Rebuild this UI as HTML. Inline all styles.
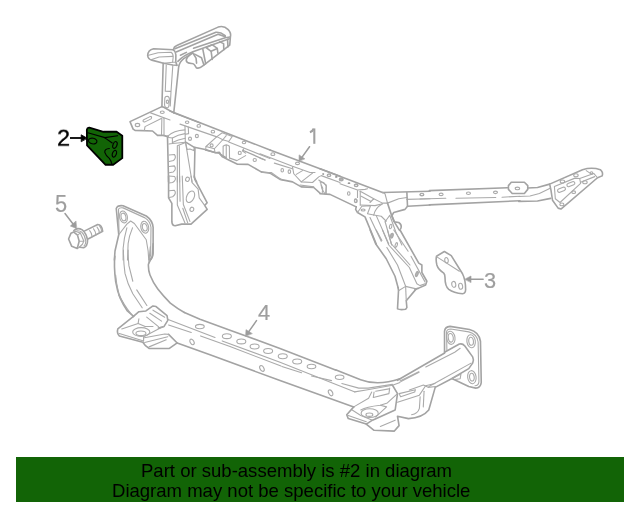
<!DOCTYPE html>
<html><head><meta charset="utf-8">
<style>
html,body{margin:0;padding:0;background:#fff;}
body{width:640px;height:512px;position:relative;overflow:hidden;font-family:"Liberation Sans",sans-serif;}
#banner{position:absolute;left:16px;top:457px;width:608px;height:45px;background:#126406;}
.t{position:absolute;white-space:nowrap;font-size:18.55px;line-height:20px;color:#000;}
#t1{left:140.5px;top:461px;}
#t2{left:111.5px;top:481px;}
.n{position:absolute;font-size:21.8px;line-height:24px;color:#9e9e9e;-webkit-text-stroke:0.2px #9e9e9e;transform:scaleY(1.06);transform-origin:0 0;will-change:transform;}
.t{will-change:transform;}
svg{position:absolute;left:0;top:0;}
svg .i{stroke-width:1.1;stroke:#aaa;}
svg .lb{stroke:#9c9c9c;stroke-width:1.5;}
svg .ah{fill:#9c9c9c;stroke:#9c9c9c;stroke-width:0.6;}
svg rect,svg path,svg ellipse,svg circle,svg line,svg polyline{vector-effect:non-scaling-stroke;}
</style></head><body>
<div id="banner"></div>
<div class="t" id="t1">Part or sub-assembly is #2 in diagram</div>
<div class="t" id="t2">Diagram may not be specific to your vehicle</div>
<div class="n" style="left:57.1px;top:127.25px;color:#000;font-size:23.5px;transform:scaleY(0.93);-webkit-text-stroke:0.4px #000;">2</div>
<div class="n" style="left:483.7px;top:268.8px;transform:scaleY(1.02);">3</div>
<div class="n" style="left:257.5px;top:299.57px;transform:scaleY(1.03);">4</div>
<div class="n" style="left:55.4px;top:191.8px;">5</div>
<svg width="640" height="512" viewBox="0 0 640 512" fill="none" stroke="#a3a3a3" stroke-width="1.6" stroke-linejoin="round" stroke-linecap="round">

<!-- Z1: top arm, region [170,20,240,76] scale 9.143 -->
<g transform="translate(170,20) scale(0.109375)">
<path d="M30,272 Q35,245 62,234 L440,65 Q492,48 532,88 Q562,118 552,158 L546,230 L300,420 Q265,450 240,436 L224,410 Q214,395 195,398 L166,392 Q144,380 150,360 L160,340 L203,298"/>
<path d="M45,262 L420,112 Q460,108 505,142"/>
<path d="M56,292 L440,130 L505,152"/>
<path d="M215,258 L505,162 L548,156"/>
<path d="M95,322 L150,296"/>
<path d="M72,378 Q125,322 210,290 L542,172"/>
<path d="M205,296 L238,348 L243,395"/>
<path d="M225,312 L288,345 L310,412"/>
<path d="M300,266 L326,400"/>
<path d="M330,252 L385,226 L432,260 L376,286 Z"/>
<path d="M376,286 L386,360"/>
<path d="M432,260 L438,302"/>
<path d="M455,200 L490,216 L492,272"/>
<path d="M526,176 L530,246"/>
</g>

<!-- Z2: left tab + post upper, region [140,40,210,96] scale 9.143 -->
<g transform="translate(140,40) scale(0.109375)">
<path d="M305,89 L125,80 Q72,92 70,142 Q74,176 108,184 L215,213 L300,228 L336,231"/>
<path d="M305,89 Q326,105 328,135 L327,200 L338,232"/>
<path class="i" d="M78,140 L165,116 L285,112 Q305,125 303,160 L298,202"/>
<path class="i" d="M100,180 L175,156 L300,150"/>
<path class="i" d="M215,213 L300,204 L327,204"/>
<path d="M212,213 L200.5,604"/>
<path class="i" d="M240,228 L231,468 L279,470"/>
<path class="i" d="M300,232 L283.6,469 L276.6,604"/>
<path d="M308.6,666 L353,250 Q360,200 400,170 L478,122"/>
</g>
<!-- Z3: post bottom slot, region [130,70,200,126] -->
<g transform="translate(130,70) scale(0.109375)">
<path class="i" d="M318,262 Q318,240 340,240 Q360,242 360,265 L356,325 Q352,348 335,345 Q316,340 316,320 Z"/>
<ellipse class="i" cx="342" cy="290" rx="10" ry="15"/>
</g>
<!-- Z4: crossbar left end, region [120,96,200,160] scale 8 -->
<g transform="translate(120,96) scale(0.125)">
<path d="M335,85 L80,205 L105,265 L120,275 L260,280 L300,315 L345,315 L385,325"/>
<path d="M335,85 L350,90 L430,135 L640,215"/>
<path class="i" d="M195,275 L200,245 L330,180"/>
<path class="i" d="M245,135 L400,192"/>
<path class="i" d="M335,178 L332,308"/>
<path class="i" d="M352,178 L352,316"/>
<ellipse class="i" cx="140" cy="232" rx="18" ry="13"/>
<ellipse class="i" cx="338" cy="130" rx="16" ry="10"/>
<path class="i" d="M190,190 L240,165 Q256,160 252,175 Q250,182 245,185 L200,207 Q185,210 184,200 Q184,194 190,190 Z"/>
</g>
<!-- Z7: left strut top, region [156,126,226,182] scale 9.143 -->
<g transform="translate(156,126) scale(0.109375)">
<path d="M105,95 L115,512"/>
<path class="i" d="M105,95 Q160,40 265,35"/>
<path class="i" d="M150,110 Q200,80 265,70"/>
<path class="i" d="M150,150 Q200,125 268,112"/>
<path class="i" d="M115,105 L150,110 L150,160 L118,165"/>
<path class="i" d="M150,160 L270,148"/>
<path class="i" d="M265,0 L268,150"/>
<path class="i" d="M295,10 L298,70 L270,76"/>
<path class="i" d="M195,512 L195,180 L270,150"/>
<path class="i" d="M213,180 L216,512"/>
<path class="i" d="M270,150 L330,512"/>
<path class="i" d="M270,150 L285,215 L310,210 L345,225 L350,195"/>
<path d="M356,198 L350,470 L372,512"/>
<path d="M272,148 L350,195 L450,215 L545,245 L580,240 L590,260 L640,290"/>
<path class="i" d="M120,265 L168,260 Q190,290 160,315 L120,325"/>
<path class="i" d="M120,370 L168,365 Q190,395 158,420 L120,428"/>
</g>
<!-- Z6: left strut bottom, region [156,176,226,232] scale 9.143 -->
<g transform="translate(156,176) scale(0.109375)">
<path d="M115,0 L115,200 L145,250 L145,420 Q148,455 175,455 L235,440 L320,440 L468,305 L445,268 L468,245 L355,30 L350,0"/>
<path class="i" d="M320,0 L330,60 L385,120 L395,200 L445,268"/>
<path class="i" d="M118,0 L170,5 Q192,35 152,60 L118,64"/>
<path class="i" d="M120,135 L168,130 Q192,160 152,190 L120,196"/>
<path class="i" d="M195,0 L195,265 L265,430"/>
<path class="i" d="M216,0 L220,230"/>
<path class="i" d="M240,0 L250,260 L310,415"/>
<path class="i" d="M245,295 L290,428"/>
<ellipse class="i" cx="288" cy="30" rx="17" ry="20" transform="rotate(20 288 30)"/>
<ellipse class="i" cx="315" cy="190" rx="34" ry="56" transform="rotate(25 315 190)"/>
<ellipse class="i" cx="328" cy="305" rx="17" ry="20" transform="rotate(25 328 305)"/>
</g>

<!-- Z8: crossbar section 1, region [190,110,270,174] scale 8 -->
<g transform="translate(190,110) scale(0.125)">
<path d="M-160,8 L640,320"/>
<path class="i" d="M-80,113 L215,215"/>
<ellipse class="i" cx="-23" cy="98" rx="14" ry="10"/>
<path class="i" d="M310,256 L640,388"/>
<path d="M422,322 L600,400" stroke-width="1.3"/>
<path d="M125,320 L200,340 L235,345 L260,375 L310,400 L380,434 L465,435 L570,495 L640,505"/>
<path class="i" d="M125,320 L128,292 L215,213 L258,182 L338,212 L310,252 L262,238 L195,310 L200,340"/>
<path class="i" d="M128,292 L195,310"/>
<path class="i" d="M215,213 L262,238"/>
<path class="i" d="M262,238 L290,205"/>
<path class="i" d="M265,375 L265,290 Q290,268 315,290 L316,385"/>
<path class="i" d="M290,282 L290,388"/>
<path class="i" d="M318,385 L375,405 L445,365"/>
<path class="i" d="M430,310 L420,328 L445,345"/>
<ellipse class="i" cx="70" cy="127" rx="14" ry="11"/>
<ellipse class="i" cx="183" cy="173" rx="14" ry="11"/>
<ellipse class="i" cx="55" cy="208" rx="12" ry="13"/>
<ellipse class="i" cx="0" cy="230" rx="12" ry="13"/>
<ellipse class="i" cx="173" cy="283" rx="12" ry="12"/>
<ellipse class="i" cx="432" cy="260" rx="14" ry="10"/>
<ellipse class="i" cx="398" cy="343" rx="12" ry="13"/>
<ellipse class="i" cx="518" cy="400" rx="13" ry="12"/>
</g>
<!-- Z9: crossbar section 2, region [260,130,340,194] scale 8 -->
<g transform="translate(260,130) scale(0.125)">
<path d="M80,160 L640,370"/>
<path class="i" d="M0,190 L260,290 L400,340 L440,340"/>
<path class="i" d="M0,225 L40,240"/>
<path class="i" d="M115,265 L260,310"/>
<path d="M80,345 L160,395 L260,415 L330,455 L430,460 L480,505"/>
<path class="i" d="M10,340 L90,340 L140,375 L180,402"/>
<path class="i" d="M320,440 L430,455"/>
<path class="i" d="M260,295 L270,350 L330,415 L420,420 L470,375 L490,365 L640,420"/>
<path class="i" d="M290,355 L340,325"/>
<path class="i" d="M330,415 L420,345"/>
<path class="i" d="M470,400 L530,440 L530,512"/>
<path class="i" d="M485,420 L495,470 L520,512"/>
<ellipse class="i" cx="103" cy="193" rx="16" ry="11"/>
<ellipse class="i" cx="300" cy="267" rx="16" ry="10"/>
<ellipse class="i" cx="178" cy="322" rx="10" ry="14"/>
<ellipse class="i" cx="235" cy="333" rx="10" ry="14"/>
<ellipse cx="507" cy="352" rx="6" ry="5" fill="#999" stroke="none"/>
<ellipse class="i" cx="552" cy="362" rx="14" ry="10"/>
<ellipse cx="612" cy="372" rx="7" ry="5" fill="#999" stroke="none"/>
</g>
<!-- Z10: crossbar section 3, region [320,160,400,224] scale 8 -->
<g transform="translate(320,160) scale(0.125)">
<path d="M0,70 L500,260"/>
<path class="i" d="M160,190 L300,240 L360,235 L380,230"/>
<path d="M0,270 L80,275 L290,375"/>
<path class="i" d="M0,175 L30,180 L50,210 L45,265"/>
<path class="i" d="M10,200 L22,225 L18,262"/>
<path class="i" d="M300,245 L300,300"/>
<ellipse cx="25" cy="112" rx="9" ry="6" fill="#999" stroke="none"/>
<ellipse class="i" cx="72" cy="122" rx="14" ry="10"/>
<ellipse cx="130" cy="135" rx="10" ry="7" fill="#999" stroke="none"/>
<ellipse cx="170" cy="155" rx="14" ry="10" fill="#bbb" stroke="#aaa"/>
<ellipse cx="232" cy="185" rx="11" ry="7" fill="#999" stroke="none"/>
<ellipse class="i" cx="290" cy="203" rx="14" ry="10"/>
<ellipse class="i" cx="230" cy="268" rx="10" ry="14"/>
<ellipse class="i" cx="287" cy="328" rx="10" ry="14"/>
</g>
<!-- Z11: joint, region [350,180,430,244] scale 8 -->
<g transform="translate(350,180) scale(0.125)">
<path d="M260,100 L640,90"/>
<path d="M50,215 L45,235 L60,260 L120,295 L210,512"/>
<path class="i" d="M82,90 L82,200"/>
<path class="i" d="M82,90 L190,150 L260,185 L300,185 L280,110 L260,100"/>
<path class="i" d="M90,130 L165,170"/>
<path class="i" d="M190,150 L160,180"/>
<path class="i" d="M82,200 L200,205 L260,190"/>
<path class="i" d="M60,260 L95,210 L165,205 L140,270 L190,280"/>
<path class="i" d="M300,185 L390,150 L455,140"/>
<path class="i" d="M260,190 Q200,225 190,280"/>
<path class="i" d="M190,280 L250,290 L290,330"/>
<path class="i" d="M455,155 L640,150"/>
<path d="M455,100 L460,210 L440,235 L350,260 L335,285 L355,335 L390,340 Q420,360 405,392"/>
<path d="M460,210 L640,200"/>
<path d="M300,185 L334,287 L352,331 L396,403"/>
<path class="i" d="M281,334 L334,520"/>
<path class="i" d="M160,300 L250,490"/>
<path class="i" d="M210,285 L310,512"/>
<path class="i" d="M281,334 L318,282 L365,412 L415,520"/>
<ellipse class="i" cx="48" cy="42" rx="14" ry="9"/>
<ellipse class="i" cx="45" cy="165" rx="10" ry="14"/>
<ellipse class="i" cx="105" cy="240" rx="16" ry="8"/>
<ellipse class="i" cx="575" cy="115" rx="14" ry="9"/>
<ellipse class="i" cx="325" cy="372" rx="9" ry="18" transform="rotate(15 325 372)"/>
</g>
<!-- Z12: right strut, region [360,230,440,294] scale 8 -->
<g transform="translate(360,230) scale(0.125)">
<path d="M81,0 L125,110 L210,230 L280,370 L305,462"/>
<path d="M320,0 L470,265 L495,280 L495,340 L535,410 L525,440 L470,465 L440,475"/>
<path class="i" d="M130,0 L175,85"/>
<path class="i" d="M180,0 L230,120 L395,300 L455,430 L480,445 L520,430"/>
<path class="i" d="M220,0 L250,110 L400,280"/>
<path class="i" d="M215,140 L300,280 L365,450"/>
<path class="i" d="M270,0 L385,170"/>
<path class="i" d="M408,210 L520,415"/>
<ellipse cx="255" cy="45" rx="9" ry="18" transform="rotate(15 255 45)" fill="#bbb" stroke="#aaa"/>
<ellipse class="i" cx="290" cy="120" rx="8" ry="20" transform="rotate(20 290 120)"/>
<ellipse cx="455" cy="352" rx="8" ry="20" transform="rotate(20 455 352)" fill="#ccc" stroke="#aaa"/>
</g>
<!-- Z13: right strut bottom, region [380,262,460,326] scale 8 -->
<g transform="translate(380,262) scale(0.125)">
<path d="M145,205 L148,230 L140,375 Q160,385 205,378 L215,365 L210,310 L290,215"/>
<path class="i" d="M205,195 L210,310"/>
<path class="i" d="M148,230 L205,195 L290,215"/>
</g>

<!-- Z14: right arm, region [420,160,520,240] scale 6.4 -->
<g transform="translate(420,160) scale(0.15625)">
<path d="M60,196 L560,178"/>
<path class="i" d="M0,250 L165,245"/>
<path class="i" d="M230,245 L485,240"/>
<path class="i" d="M525,238 L640,232"/>
<path d="M60,287 L640,261"/>
<ellipse class="i" cx="12" cy="222" rx="13" ry="8"/>
<ellipse class="i" cx="135" cy="220" rx="13" ry="8"/>
<ellipse class="i" cx="310" cy="213" rx="13" ry="8"/>
<ellipse class="i" cx="483" cy="207" rx="13" ry="8"/>
</g>
<!-- Z15: right arm end, region [500,150,620,246] scale 5.333 -->
<g transform="translate(500,150) scale(0.1875)">
<path d="M45,190 L60,172 L130,172 L148,190 L148,210 L130,232 L65,232 L45,210 Z" stroke-linejoin="round"/>
<ellipse class="i" cx="93" cy="205" rx="12" ry="7"/>
<path d="M148,203 L200,200 L265,182 L440,105 Q490,90 535,105 Q552,120 545,138 L520,148 L325,315 L310,310 L280,268 L272,215 L265,182"/>
<path d="M100,274 L200,272 L270,258"/>
<path class="i" d="M100,248 L160,245 L210,232 L265,205"/>
<path class="i" d="M290,195 L400,150 L425,152 L430,178 L320,280 L295,260 Z"/>
<path class="i" d="M425,152 L500,125 L520,148"/>
<path class="i" d="M430,172 L505,142"/>
<path class="i" d="M460,110 L490,130"/>
<ellipse class="i" cx="333" cy="168" rx="12" ry="8"/>
<ellipse class="i" cx="405" cy="135" rx="12" ry="8"/>
<ellipse class="i" cx="453" cy="172" rx="12" ry="8"/>
<ellipse class="i" cx="393" cy="225" rx="10" ry="7"/>
<ellipse class="i" cx="330" cy="290" rx="11" ry="7"/>
<ellipse class="i" cx="488" cy="122" rx="7" ry="6"/>
<rect class="i" x="306" y="203" width="44" height="18" rx="9" transform="rotate(-22 328 212)"/>
<rect class="i" x="356" y="173" width="44" height="18" rx="9" transform="rotate(-22 378 182)"/>
</g>
<!-- Z16: part 3 + label, region [425,240,505,304] scale 8 -->
<g transform="translate(425,240) scale(0.125)">
<path d="M155,92 L92,130 Q85,160 95,200 Q105,235 150,265 Q160,275 160,300 Q160,370 190,395 Q230,425 300,430 Q325,425 325,395 Q325,320 300,270 L210,125 Z"/>
<path class="i" d="M95,135 L275,250"/>
<ellipse class="i" cx="172" cy="162" rx="14" ry="22" transform="rotate(-10 172 162)"/>
<ellipse class="i" cx="230" cy="355" rx="16" ry="24" transform="rotate(-10 230 355)"/>
<ellipse class="i" cx="285" cy="370" rx="16" ry="24" transform="rotate(-10 285 370)"/>
<path class="lb" d="M465,313 L350,313"/>
<path class="ah" d="M320,313 L368,288 L368,338 Z"/>
</g>
<!-- Z17: bolt + label 5, region [40,190,120,254] scale 8 -->
<g transform="translate(40,190) scale(0.125)">
<path class="lb" d="M200,188 L272,282"/>
<path class="ah" d="M292,308 L243,288 L286,250 Z"/>
</g>
<!-- Z25: bolt, region [64,220,109,256] scale 14.22 -->
<g transform="translate(64,220) scale(0.0703125)">
<path d="M65,270 L98,190 L140,172 L192,215 L216,302 L188,405 L110,375 Z"/>
<path class="i" d="M140,172 L160,160 L232,186 L192,215"/>
<path class="i" d="M232,186 L282,300 L216,302"/>
<path class="i" d="M282,300 L262,345 L205,398"/>
<path d="M140,150 Q190,100 260,140 Q320,190 335,290 Q335,370 280,395 L225,388"/>
<path class="i" d="M165,160 Q210,140 255,175 Q300,220 310,300 Q310,350 285,370"/>
<path d="M295,155 L480,65 Q540,70 550,160 L342,270"/>
<path class="i" d="M365,150 Q395,180 400,238"/>
<path class="i" d="M420,125 Q450,160 455,212"/>
<path class="i" d="M470,100 Q500,135 505,187"/>
<path class="i" d="M505,82 Q530,110 535,165"/>
</g>
<!-- label 1 + arrow, region [280,120,340,168] scale 10.667 -->
<g transform="translate(280,120) scale(0.09375)">
<path class="lb" d="M315,285 L222,415"/>
<path class="ah" d="M203,438 L204,372 L262,412 Z"/>
<path d="M366,90 L366,254" stroke="#a0a0a0" stroke-width="2.1" stroke-linecap="butt"/>
<path d="M319,130 Q350,120 358,92" stroke="#a0a0a0" stroke-width="2.0" stroke-linecap="butt" fill="none"/>
</g>
<!-- label 4 arrow, region [180,300,300,396] scale 5.333 -->
<g transform="translate(180,300) scale(0.1875)">
<path class="lb" d="M408,110 L362,175"/>
<path class="ah" d="M350,192 L352,158 L384,178 Z"/>
</g>
<!-- label 2 arrow (black) -->
<path d="M70,138 L83,138" stroke="#000" stroke-width="1.8" stroke-linecap="butt"/>
<path d="M87,138.1 L81.2,134.8 L81.2,141.4 Z" fill="#000" stroke="#000" stroke-width="0.8"/>

<!-- part 2 green, region [80,122,130,172] scale 10.24 -->
<g transform="translate(80,122) scale(0.09765625)" stroke="#000">
<path d="M70,78 Q74,56 96,58 L240,100 L375,100 L433,140 L433,370 L340,438 L262,438 L72,240 Z" fill="#126406" stroke-width="1.8"/>
<path d="M80,110 L255,160 L385,140" stroke-width="1.1"/>
<path d="M255,163 L330,215" stroke-width="1.1"/>
<ellipse cx="130" cy="195" rx="44" ry="29" transform="rotate(12 130 195)" stroke-width="1.1"/>
<ellipse cx="358" cy="235" rx="20" ry="36" transform="rotate(22 358 235)" stroke-width="1.1"/>
<ellipse cx="352" cy="325" rx="20" ry="36" transform="rotate(22 352 325)" stroke-width="1.1"/>
<path d="M300,272 Q250,275 254,310 Q262,340 300,372 Q318,395 326,428" stroke-width="1.1"/>
</g>
<!-- Z18: lower crossmember left flange, region [100,196,180,260] scale 8 -->
<g transform="translate(100,196) scale(0.125)">
<path d="M115,512 L120,440 L150,310 L130,100 Q140,72 185,78 L370,160 Q420,195 425,250 L425,460 Q420,500 400,512"/>
<path class="i" d="M152,290 L148,105 Q155,90 185,95 L360,175 Q400,200 408,250 L405,470 L395,512"/>
<path class="i" d="M150,310 L215,225 L245,200 L275,220 L370,350 L385,440 L390,512"/>
<path class="i" d="M215,255 Q190,340 185,420 L185,512"/>
<path class="i" d="M260,255 Q232,320 225,380 L220,512"/>
<ellipse class="i" cx="188" cy="168" rx="31" ry="48" transform="rotate(-12 188 168)"/>
<ellipse class="i" cx="188" cy="168" rx="19" ry="31" transform="rotate(-12 188 168)"/>
<ellipse class="i" cx="358" cy="250" rx="31" ry="48" transform="rotate(-12 358 250)"/>
<ellipse class="i" cx="358" cy="250" rx="19" ry="30" transform="rotate(-12 358 250)"/>
</g>
<!-- Z19: curved arm, region [100,250,200,330] scale 6.4 -->
<g transform="translate(100,250) scale(0.15625)">
<path d="M95,40 Q88,100 100,200 Q110,260 130,310 Q150,355 175,390 L215,425"/>
<path d="M340,-40 L335,40 L310,90 Q308,130 320,160 Q340,210 370,250 Q405,295 450,340 Q495,375 540,400"/>
<path class="i" d="M322,-20 L312,85"/>
<path class="i" d="M150,0 Q150,80 160,150 Q175,215 210,280 L270,370"/>
<path class="i" d="M180,0 Q180,50 185,100 L210,200"/>
<path class="i" d="M235,255 L300,355"/>
<path class="i" d="M100,160 Q105,220 120,280 Q150,350 200,410"/>
<path class="i" d="M120,290 L150,345"/>
</g>
<!-- Z20: left mount, region [110,300,210,380] scale 6.4 -->
<g transform="translate(110,300) scale(0.15625)">
<path d="M150,105 L50,185 Q42,210 60,230 L210,270 L225,290 L250,310 L380,310 L430,275 L375,220"/>
<path d="M150,105 L185,75 L230,70 L275,38 L295,42 L365,100 L370,130 L345,170 L310,180"/>
<path class="i" d="M275,65 L350,110"/>
<path class="i" d="M255,85 L330,135"/>
<path class="i" d="M235,110 L310,170"/>
<path class="i" d="M185,120 L180,150 L75,185"/>
<path class="i" d="M180,150 L225,170 L275,170"/>
<ellipse class="i" cx="200" cy="205" rx="55" ry="28"/>
<ellipse class="i" cx="198" cy="213" rx="32" ry="15"/>
<path class="i" d="M60,215 L215,262"/>
<path class="i" d="M215,262 L215,235 L310,185 L345,170"/>
<path class="i" d="M220,242 L350,218 L375,220"/>
<path class="i" d="M222,272 L370,235"/>
<path class="i" d="M250,300 L360,255"/>
<path class="i" d="M375,160 L520,208"/>
<ellipse class="i" cx="575" cy="170" rx="28" ry="14"/>
<ellipse class="i" cx="525" cy="268" rx="12" ry="19" transform="rotate(-30 525 268)"/>
</g>
<!-- Z21: beam, region [180,300,300,396] scale 5.333 -->
<g transform="translate(180,300) scale(0.1875)">
<ellipse class="i" cx="250" cy="193" rx="24" ry="13"/>
<ellipse class="i" cx="327" cy="221" rx="24" ry="13"/>
<ellipse class="i" cx="398" cy="248" rx="24" ry="13"/>
<ellipse class="i" cx="470" cy="272" rx="24" ry="13"/>
<ellipse class="i" cx="548" cy="300" rx="24" ry="13"/>
<ellipse class="i" cx="625" cy="328" rx="24" ry="13"/>
<ellipse class="i" cx="437" cy="365" rx="10" ry="17" transform="rotate(-30 437 365)"/>
</g>
<!-- Z22: beam right, region [280,330,400,426] scale 5.333 -->
<g transform="translate(280,330) scale(0.1875)">
<path d="M296,212 L430,265 Q520,300 640,260"/>
<path class="i" d="M398,330 L460,320 L600,295 L640,280"/>
<path class="i" d="M10,195 L115,228"/>
<path class="i" d="M168,245 L275,270"/>
<path class="i" d="M330,285 L420,310 L470,310 L600,290"/>
<ellipse class="i" cx="168" cy="195" rx="23" ry="12"/>
<ellipse class="i" cx="318" cy="252" rx="23" ry="12"/>
<ellipse class="i" cx="270" cy="335" rx="10" ry="17" transform="rotate(-30 270 335)"/>
</g>
<!-- Z23: right mount, region [335,360,435,440] scale 6.4 -->
<g transform="translate(335,360) scale(0.15625)">
<path d="M400,130 L702,-45"/>
<path class="i" d="M422,138 L538,78"/>
<path d="M120,300 L75,350 L85,375 L200,410 L250,450 L380,455 L410,420 L400,360 L470,375 Q560,370 600,320 L640,180"/>
<path class="i" d="M120,300 L215,245 L235,205"/>
<path class="i" d="M250,205 L245,240 L345,215 L350,180"/>
<path class="i" d="M260,200 L345,185"/>
<path d="M370,165 L400,215 L385,320 L240,385 L200,410"/>
<path class="i" d="M165,320 Q200,300 290,290 L335,275 L400,215"/>
<path class="i" d="M290,290 L330,300 L260,365"/>
<ellipse class="i" cx="222" cy="340" rx="55" ry="28"/>
<ellipse class="i" cx="220" cy="350" rx="22" ry="11"/>
<path class="i" d="M110,320 L165,355 L240,385"/>
<path class="i" d="M85,355 L200,395"/>
<path class="i" d="M290,425 L385,385"/>
<path class="i" d="M410,215 L420,235 L510,205 L515,190 Z"/>
<path class="i" d="M400,270 L540,225 L580,165 L640,150"/>
<path class="i" d="M545,235 L540,310 Q530,345 490,350"/>
<path class="i" d="M570,200 L565,300"/>
</g>
<!-- Z24: right flange, region [400,310,500,390] scale 6.4 -->
<g transform="translate(400,310) scale(0.15625)">
<path d="M285,270 L285,135 Q288,108 320,105 L445,125 Q505,140 515,200 L520,465 Q515,500 485,500 L440,490 L335,440"/>
<path class="i" d="M300,258 L298,140 Q302,122 325,122 L440,140 Q492,152 500,205 L505,460 Q502,485 480,485"/>
<ellipse class="i" cx="325" cy="178" rx="27" ry="42" transform="rotate(-8 325 178)"/>
<ellipse class="i" cx="325" cy="178" rx="16" ry="28" transform="rotate(-8 325 178)"/>
<ellipse class="i" cx="455" cy="200" rx="27" ry="42" transform="rotate(-8 455 200)"/>
<ellipse class="i" cx="455" cy="200" rx="15" ry="26" transform="rotate(-8 455 200)"/>
<ellipse class="i" cx="460" cy="430" rx="27" ry="42" transform="rotate(-8 460 430)"/>
<ellipse class="i" cx="460" cy="430" rx="15" ry="25" transform="rotate(-8 460 430)"/>
<path d="M285,270 L380,218 Q400,212 415,230 L465,300 Q475,320 465,340 L440,375 L330,440 L225,495"/>
<path class="i" d="M165,365 L350,270 L385,245"/>
<path class="i" d="M0,455 L120,395"/>
<path class="i" d="M185,490 L455,340"/>
<path class="i" d="M330,440 L390,410 L385,440 L350,445"/>
<path class="i" d="M60,512 L150,480 L180,495 L230,490"/>
</g>

<!-- beam long lines in source coords -->
<path d="M184.4,312.5 L200,319.2 L230,330.2 L280,348.4 L335.5,370"/>
<path class="i" d="M168.1,319.4 L215,337.5"/>
<path class="i" d="M222.2,340.9 L280,362.3 L355,391.9"/>
<path class="i" d="M200.6,335.9 L230,346.6 L281,366"/>
<path d="M177.2,343 L210,354.7 L280,380.6 L353.75,406.9"/>
</svg>
</body></html>
